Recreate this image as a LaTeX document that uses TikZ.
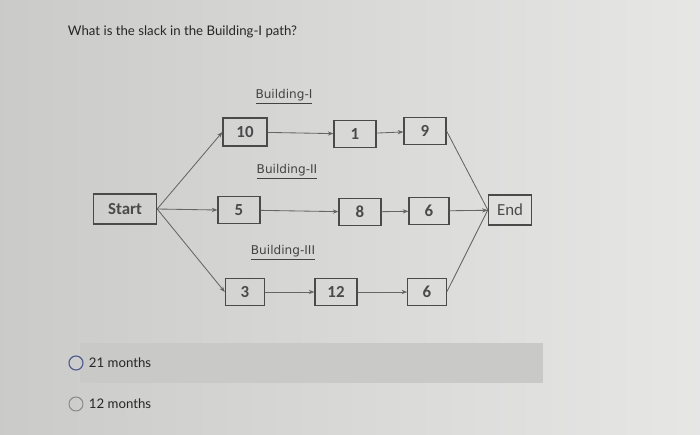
\documentclass[tikz,border=0pt]{standalone}
\usepackage{fontspec}
\setmainfont{Lato}
\newfontfamily\boxfont{Carlito}
\newfontfamily\labelfont{DejaVu Sans}
\usetikzlibrary{arrows.meta, positioning}
\definecolor{pagebg}{HTML}{DCDCDB}
\definecolor{bandbg}{HTML}{C9C9C8}
\definecolor{inkgray}{HTML}{4A4A4A}
\definecolor{radioblue}{HTML}{4C5A8C}
\tikzset{
	taskbox/.style={draw=inkgray, line width=0.8pt, minimum width=1.05cm, minimum height=0.68cm,
		inner sep=0pt, text=inkgray, font=\boxfont\bfseries\fontsize{12}{14}\selectfont}
}
\tikzset{
	link/.style={draw=inkgray!85, line width=0.6pt, -{Stealth[length=4pt,width=3pt]}}
}
\tikzset{
	plainlink/.style={draw=inkgray!85, line width=0.6pt}
}
\tikzset{
	pathlabel/.style={font=\labelfont\fontsize{8.6}{10}\selectfont, text=inkgray!90!black}
}
\tikzset{
	optiontext/.style={font=\fontsize{9.4}{11}\selectfont, text=black!85, anchor=west}
}

\begin{document}
\begin{tikzpicture}[x=0.025cm, y=-0.025cm]

			% page
			\shade[left color=pagebg!92!black, right color=pagebg!70!white] (0,0) rectangle (700,435);
			\useasboundingbox (0,0) rectangle (700,435);

			\node[font=\fontsize{9.4}{11}\selectfont, text=black!85, anchor=west] (question) at (63,32)
				{What is the slack in the Building-I path?};

			\begin{scope}
				\node[taskbox, minimum width=1.58cm, minimum height=0.75cm] (start) at (125,209) {Start};
				\node[taskbox, minimum width=1.08cm, minimum height=0.75cm, font=\boxfont\fontsize{12}{14}\selectfont] (finish) at (510,210) {End};

				\node[taskbox, minimum width=1.1cm, minimum height=0.7cm] (tA) at (245,132) {10};
				\node[taskbox] (tB) at (355,134) {1};
				\node[taskbox] (tC) at (425,131) {9};

				\node[taskbox] (tD) at (239,210) {5};
				\node[taskbox] (tE) at (360,212) {8};
				\node[taskbox, minimum width=1.0cm] (tF) at (429,211) {6};

				\node[taskbox, minimum width=0.98cm] (tG) at (245,292) {3};
				\node[taskbox] (tH) at (336,292) {12};
				\node[taskbox, minimum width=0.96cm] (tI) at (427,292) {6};
			\end{scope}

			\begin{scope}
				\node[pathlabel] (lA) at (284,97) {\underline{Building-I}};
				\node[pathlabel] (lB) at (287,172) {\underline{Building-II}};
				\node[pathlabel] (lC) at (283,253) {\underline{Building-III}};
			\end{scope}

			\begin{scope}
				\draw[link] (start.east) -- (tA.west);
				\draw[link] (start.east) -- (tD.west);
				\draw[link] (start.east) -- (tG.west);

				\draw[link] (tA) -- (tB);
				\draw[link] (tB) -- (tC);
				\draw[link] (tD) -- (tE);
				\draw[link] (tE) -- (tF);
				\draw[link] (tG) -- (tH);
				\draw[link] (tH) -- (tI);

				\draw[plainlink] (tC.east) -- (finish.west);
				\draw[link] (tF) -- (finish);
				\draw[plainlink] (tI.east) -- (finish.west);
			\end{scope}

			% answers
			\fill[bandbg] (80,343) rectangle (543,383);
			\draw[radioblue, line width=0.8pt] (76,363) circle (7) coordinate (radioA);
			\node[optiontext] (optA) at (84,363) {21 months};
			\draw[gray, line width=0.6pt] (76,404) circle (7) coordinate (radioB);
			\node[optiontext] (optB) at (84,404) {12 months};

		\end{tikzpicture}
\end{document}
